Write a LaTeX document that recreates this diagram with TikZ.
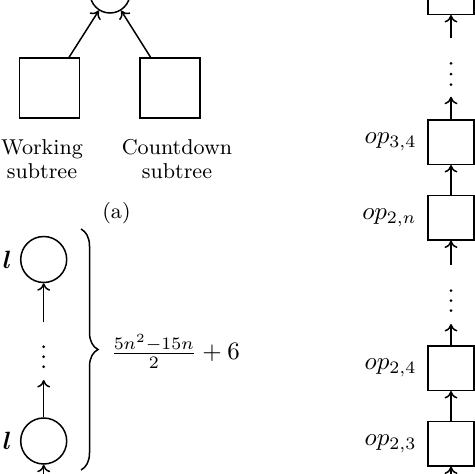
\documentclass[tikz,border=0pt]{standalone}
\usepackage{amsmath}
\usetikzlibrary{positioning}
\usetikzlibrary{arrows.meta}
\usetikzlibrary{decorations.pathreplacing}

\tikzset{
  treenode/.style={circle, draw, minimum size=16pt, inner sep=0pt},
  subtree/.style={rectangle, draw, minimum size=24pt, inner sep=0pt},
  lnode/.style={circle, draw, minimum size=18.4pt, inner sep=0pt},
  opbox/.style={rectangle, draw, minimum width=18.4pt, minimum height=17.8pt, inner sep=0pt},
  small/.style={font=\fontsize{8.6}{9.8}\selectfont},
}

\begin{document}
\begin{tikzpicture}[x=0.4pt, y=-0.4pt, line width=0.6pt,
    >={Computer Modern Rightarrow[length=3pt, width=5.2pt]}]
  \useasboundingbox (0,0) rectangle (474,474);

  % (a)
  \node [treenode] (root) at (110,-7) {};
  \node [subtree] (work) at (49.5,88) {};
  \node [subtree] (count) at (170,88) {};
  \draw [->] (work) -- (root);
  \draw [->] (count) -- (root);
  \node [small, align=center] (worklabel) at (42,159) {Working\\subtree};
  \node [small, align=center] (countlabel) at (177,159) {Countdown\\subtree};
  \node [small] (capa) at (116.5,213) {(a)};

  % (b)
  \node [lnode] (ltop) at (43.7,259.5) {};
  \node [lnode] (lbot) at (43.7,441) {};
  \node [inner sep=0pt, left=3pt of ltop] (ltoplabel) {$\boldsymbol{l}$};
  \node [inner sep=0pt, left=3pt of lbot] (lbotlabel) {$\boldsymbol{l}$};
  \coordinate (lup) at (43.7,322);
  \coordinate (ldown) at (43.7,380);
  \coordinate (lin) at (43.7,500);
  \draw [->] (lup) -- (ltop);
  \draw [->] (lbot) -- (ldown);
  \draw [->] (lin) -- (lbot);
  \foreach \y in {346.7,356.7,366.7}
    \fill (43.7,\y) circle (0.6pt);
  \draw [decorate, decoration={brace, amplitude=6.8pt}] (81,229) -- (81,470);
  \node [inner sep=0pt, anchor=west] (lformula) at (110,351) {$\frac{5n^2-15n}{2}+6$};

  % (c)
  \node [opbox] (optop) at (451,-8) {};
  \node [opbox] (op34) at (451,142) {};
  \node [opbox] (op2n) at (451,217.5) {};
  \node [opbox] (op24) at (451,368) {};
  \node [opbox] (op23) at (451,443.5) {};
  \node [inner sep=0pt, left=4pt of op34] (op34label) {$op_{3,4}$};
  \node [inner sep=0pt, left=4pt of op2n] (op2nlabel) {$op_{2,n}$};
  \node [inner sep=0pt, left=4pt of op24] (op24label) {$op_{2,4}$};
  \node [inner sep=0pt, left=4pt of op23] (op23label) {$op_{2,3}$};
  \coordinate (topup) at (451,38);
  \coordinate (topdown) at (451,96.7);
  \coordinate (midup) at (451,265);
  \coordinate (middown) at (451,324);
  \coordinate (botup) at (451,500);
  \draw [->] (topup) -- (optop);
  \draw [->] (op34) -- (topdown);
  \draw [->] (op2n) -- (op34);
  \draw [->] (midup) -- (op2n);
  \draw [->] (op24) -- (middown);
  \draw [->] (op23) -- (op24);
  \draw [->] (botup) -- (op23);
  \foreach \y in {63.3,74,84.7}
    \fill (451,\y) circle (0.6pt);
  \foreach \y in {290.7,300.7,310.7}
    \fill (451,\y) circle (0.6pt);

\end{tikzpicture}
\end{document}
